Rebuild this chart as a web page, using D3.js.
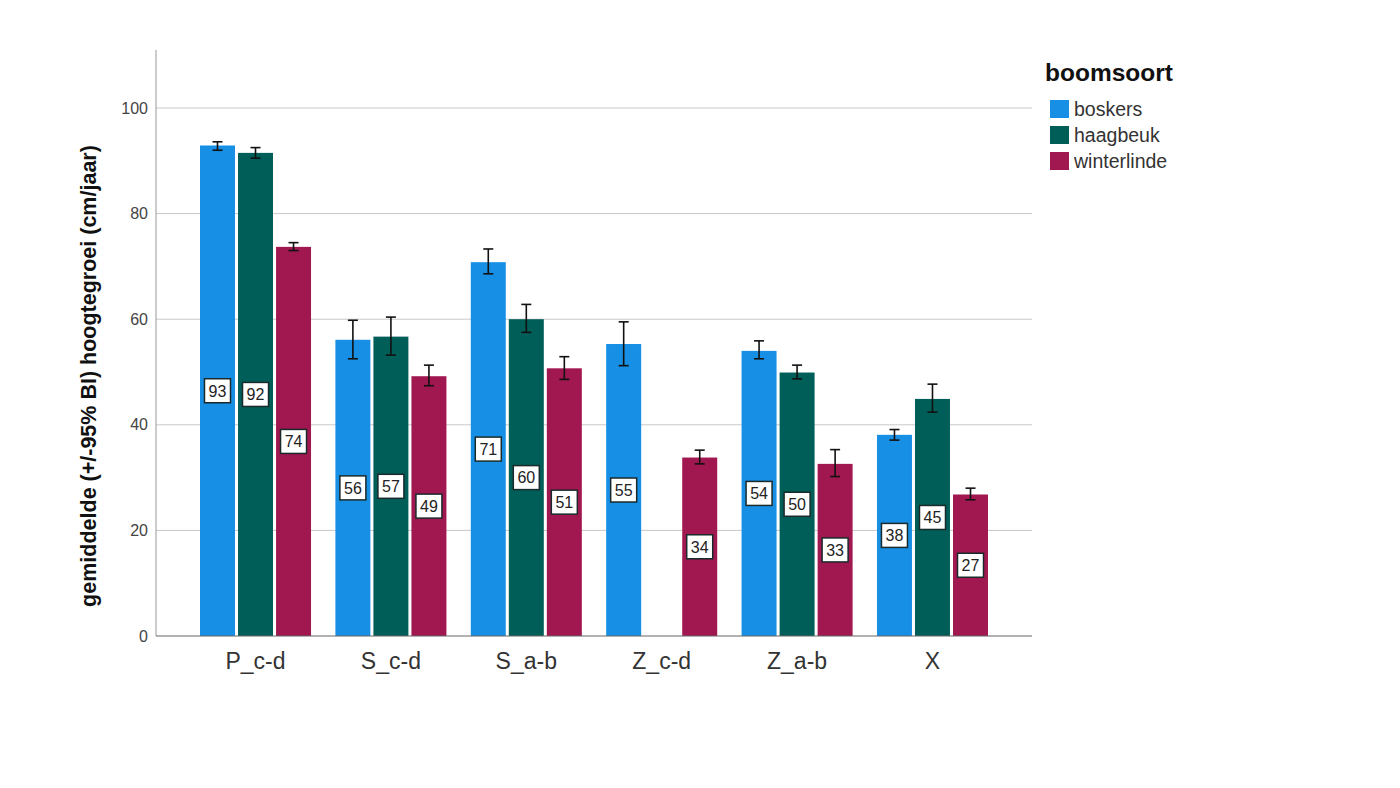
<!DOCTYPE html>
<html>
<head>
<meta charset="utf-8">
<script src="https://cdn.jsdelivr.net/npm/d3@7"></script>
<style>
  body { margin: 0; background: #fff; }
  svg text { font-family: "Liberation Sans", Arial, sans-serif; }
</style>
</head>
<body>
<svg id="chart" width="1400" height="788"></svg>
<script>
// categories and series
var categories = ["P_c-d", "S_c-d", "S_a-b", "Z_c-d", "Z_a-b", "X"];
var series = ["boskers", "haagbeuk", "winterlinde"];
var colors = ["#178fe5", "#005e58", "#a1174f"];

// means per series (null = no data)
var boskers     = [92.9, 56.1, 70.8, 55.3, 54.0, 38.1];
var haagbeuk    = [91.5, 56.7, 60.0, null, 49.9, 44.9];
var winterlinde = [73.7, 49.2, 50.7, 33.8, 32.6, 26.8];

// 95% CI lower / upper
var boskersLo     = [92.0, 52.5, 68.6, 51.2, 52.5, 37.1];
var boskersHi     = [93.6, 59.8, 73.3, 59.5, 55.9, 39.1];
var haagbeukLo    = [90.5, 53.2, 57.5, null, 48.7, 42.4];
var haagbeukHi    = [92.5, 60.4, 62.8, null, 51.3, 47.7];
var winterlindeLo = [73.0, 47.4, 48.6, 32.6, 30.2, 25.8];
var winterlindeHi = [74.5, 51.3, 52.9, 35.2, 35.3, 28.0];

var yTicks = [0, 20, 40, 60, 80, 100];

var means = [boskers, haagbeuk, winterlinde];
var lows = [boskersLo, haagbeukLo, winterlindeLo];
var highs = [boskersHi, haagbeukHi, winterlindeHi];

var rows = [];
categories.forEach(function(c, i) {
  series.forEach(function(s, j) {
    if (means[j][i] == null) return;
    rows.push({cat: c, ser: s, val: means[j][i], lo: lows[j][i], hi: highs[j][i]});
  });
});

var svg = d3.select("#chart");
var mLeft = 156, mRight = 1032, mTop = 50, mBottom = 636;

var x0 = d3.scaleBand().domain(categories).range([mLeft, mRight])
  .paddingInner(0.18).paddingOuter(0.325);
var x1 = d3.scaleBand().domain(series).range([0, x0.bandwidth()]).paddingInner(0.08);
var y = d3.scaleLinear().domain([0, 100]).range([mBottom, 108]);
var color = d3.scaleOrdinal().domain(series).range(colors);

// gridlines
svg.append("g").selectAll("line")
  .data(yTicks.filter(function(d) { return d > 0; }))
  .enter().append("line")
  .attr("x1", mLeft).attr("x2", mRight)
  .attr("y1", function(d) { return y(d); }).attr("y2", function(d) { return y(d); })
  .attr("stroke", "#c8c8c8").attr("stroke-width", 1);

// y axis
var yAxis = svg.append("g")
  .attr("transform", "translate(" + mLeft + ",0)")
  .call(d3.axisLeft(y).tickValues(yTicks).tickSize(0).tickPadding(8));
yAxis.select(".domain").remove();
yAxis.selectAll("text").attr("font-size", 16).attr("fill", "#444");
svg.append("line").attr("x1", mLeft).attr("x2", mLeft).attr("y1", mTop).attr("y2", mBottom)
  .attr("stroke", "#999").attr("stroke-width", 1);

// bars
var g = svg.append("g");
g.selectAll("rect").data(rows).enter().append("rect")
  .attr("x", function(d) { return x0(d.cat) + x1(d.ser); })
  .attr("width", x1.bandwidth())
  .attr("y", function(d) { return y(d.val); })
  .attr("height", function(d) { return y(0) - y(d.val); })
  .attr("fill", function(d) { return color(d.ser); });

// error bars
var eb = g.selectAll(".eb").data(rows).enter().append("g").attr("class", "eb")
  .attr("transform", function(d) { return "translate(" + (x0(d.cat) + x1(d.ser) + x1.bandwidth() / 2) + ",0)"; });
eb.append("line").attr("x1", 0).attr("x2", 0)
  .attr("y1", function(d) { return y(d.lo); }).attr("y2", function(d) { return y(d.hi); });
eb.append("line").attr("x1", -5).attr("x2", 5)
  .attr("y1", function(d) { return y(d.lo); }).attr("y2", function(d) { return y(d.lo); });
eb.append("line").attr("x1", -5).attr("x2", 5)
  .attr("y1", function(d) { return y(d.hi); }).attr("y2", function(d) { return y(d.hi); });
eb.selectAll("line").attr("stroke", "#111").attr("stroke-width", 1.6);

// value labels
var lab = g.selectAll(".lab").data(rows).enter().append("g").attr("class", "lab")
  .attr("transform", function(d) {
    return "translate(" + (x0(d.cat) + x1(d.ser) + x1.bandwidth() / 2) + "," + y(d.val / 2) + ")";
  });
lab.append("rect").attr("x", -13).attr("y", -12).attr("width", 26).attr("height", 24)
  .attr("fill", "#fff").attr("stroke", "#1a2a2a").attr("stroke-width", 1.5);
lab.append("text").attr("text-anchor", "middle").attr("dy", "0.36em")
  .attr("font-size", 16).attr("fill", "#222")
  .text(function(d) { return Math.round(d.val); });

// x axis
svg.append("line").attr("x1", mLeft).attr("x2", mRight).attr("y1", mBottom).attr("y2", mBottom)
  .attr("stroke", "#666").attr("stroke-width", 1.2);
svg.append("g").selectAll("text").data(categories).enter().append("text")
  .attr("x", function(d) { return x0(d) + x0.bandwidth() / 2; })
  .attr("y", 669)
  .attr("text-anchor", "middle").attr("font-size", 23).attr("fill", "#333")
  .text(function(d) { return d; });

// y label
svg.append("text")
  .attr("transform", "translate(96,376) rotate(-90)")
  .attr("text-anchor", "middle").attr("font-size", 21.5).attr("font-weight", "bold")
  .attr("fill", "#111")
  .text("gemiddelde (+/-95% BI) hoogtegroei (cm/jaar)");

// legend
var lg = svg.append("g").attr("transform", "translate(1045,0)");
lg.append("text").attr("x", 0).attr("y", 81).attr("font-size", 24.5).attr("font-weight", "bold")
  .attr("fill", "#111").text("boomsoort");
var li = lg.selectAll(".li").data(series).enter().append("g")
  .attr("transform", function(d, i) { return "translate(5," + (100 + i * 26) + ")"; });
li.append("rect").attr("width", 19).attr("height", 18).attr("fill", function(d) { return color(d); });
li.append("text").attr("x", 24).attr("y", 16).attr("font-size", 19.5).attr("fill", "#333")
  .text(function(d) { return d; });
</script>
</body>
</html>
